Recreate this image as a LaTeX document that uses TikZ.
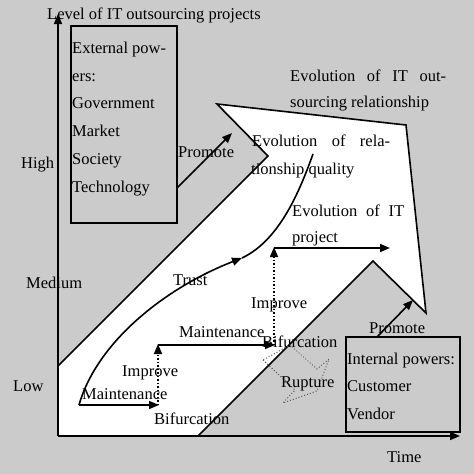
\documentclass[tikz,border=0pt]{standalone}
\usepackage{fontspec}
\setmainfont{Liberation Serif}
\usetikzlibrary{arrows.meta}
\definecolor{bggray}{RGB}{203,203,203}
\definecolor{rupgray}{RGB}{90,90,90}
\begin{document}
\begin{tikzpicture}[x=1pt,y=-1pt,
  lbl/.style={anchor=base west,inner sep=0pt,font=\fontsize{16.5}{18}\selectfont},
  tip/.style={-{Triangle[length=10pt,width=8pt]}},
  thick line/.style={line width=1.6pt},
  boxframe/.style={draw,line width=1.4pt,inner sep=0pt}]
\fill[bggray] (0,0) rectangle (474,474);
\useasboundingbox (0,0) rectangle (474,474);
% big evolution arrow
\fill[white] (58,366) -- (268,156) -- (217,104) -- (406,125) -- (426,313) -- (373,261) -- (198,436) -- (58,436) -- cycle;
\draw[thick line,line join=miter] (58,366) -- (268,156) -- (217,104) -- (406,125) -- (426,313) -- (373,261) -- (198,436);
% axes
\coordinate (origin) at (58,436);
\coordinate (ytop) at (58,14);
\coordinate (xend) at (460,436);
\draw[thick line,tip] (origin) -- (ytop);
\draw[thick line,tip] (origin) -- (xend);
% axis labels
\node[lbl] (ylabel) at (47,19) {Level of IT outsourcing projects};
\node[lbl] (high) at (21,168) {High};
\node[lbl] (medium) at (26,288) {Medium};
\node[lbl] (low) at (13,391) {Low};
\node[lbl] (time) at (387,462) {Time};
% external powers box
\node[boxframe,minimum width=106pt,minimum height=197pt] (ext) at (124,124.5) {};
\node[lbl] (e1) at (72,53) {External pow-};
\node[lbl] (e2) at (72,81) {ers:};
\node[lbl] (e3) at (72,108) {Government};
\node[lbl] (e4) at (72,136) {Market};
\node[lbl] (e5) at (72,164) {Society};
\node[lbl] (e6) at (72,192) {Technology};
% internal powers box
\node[boxframe,minimum width=114pt,minimum height=95pt] (int) at (403,384.5) {};
\node[lbl] (i1) at (347,364) {Internal powers:};
\node[lbl] (i2) at (347,391) {Customer};
\node[lbl] (i3) at (347,419) {Vendor};
% promote arrows
\coordinate (pu0) at (177,188);
\coordinate (pu1) at (232,133);
\draw[thick line,tip] (pu0) -- (pu1);
\node[lbl] (promu) at (178,157) {Promote};
\coordinate (pl0) at (377,337);
\coordinate (pl1) at (413,300);
\draw[thick line,tip] (pl0) -- (pl1);
\node[lbl] (proml) at (369,333) {Promote};
% titles
\node[lbl] (t1) at (290,81) {\makebox[156pt][s]{Evolution of IT out-}};
\node[lbl] (t2) at (290,107) {sourcing relationship};
\node[lbl] (q1) at (252,146) {\makebox[138pt][s]{Evolution of rela-}};
\node[lbl] (q2) at (251,174) {tionship quality};
\node[lbl] (pr1) at (292,216) {\makebox[112pt][s]{Evolution of IT}};
\node[lbl] (pr2) at (292,242) {project};
% relationship quality curve
\coordinate (c0) at (79,405);
\coordinate (c1) at (242,258);
\coordinate (c2) at (313,154);
\draw[thick line,tip] (c0) .. controls (97,342) and (165,288) .. (c1);
\draw[thick line] (c1) .. controls (280,240) and (300,190) .. (c2);
\node[lbl] (trust) at (173,285) {Trust};
% project steps
\coordinate (p0) at (79,405);
\coordinate (p1) at (159,405);
\coordinate (p2) at (158,344);
\coordinate (p3) at (275,345);
\coordinate (p4) at (274,247);
\coordinate (p5) at (390,248);
\draw[thick line,tip] (p0) -- (p1);
\draw[line width=1.5pt,dotted,tip] (158,405) -- (p2);
\draw[thick line,tip] (158,345) -- (p3);
\draw[line width=1.5pt,dotted,tip] (274,345) -- (p4);
\draw[thick line,tip] (274,248) -- (p5);
\node[lbl] (m1) at (82,399) {Maintenance};
\node[lbl] (im1) at (122,376) {Improve};
\node[lbl] (b1) at (154,424) {Bifurcation};
\node[lbl] (m2) at (179,337) {Maintenance};
\node[lbl] (im2) at (251,308) {Improve};
\node[lbl] (b2) at (262,347) {Bifurcation};
% rupture hollow arrow
\draw[rupgray,dotted,line width=1pt] (263,360) -- (295,390) -- (283,403) -- (317,391) -- (329,359) -- (317,369) -- (290,345) -- cycle;
\node[lbl] (rup) at (281,387) {Rupture};
\end{tikzpicture}
\end{document}
